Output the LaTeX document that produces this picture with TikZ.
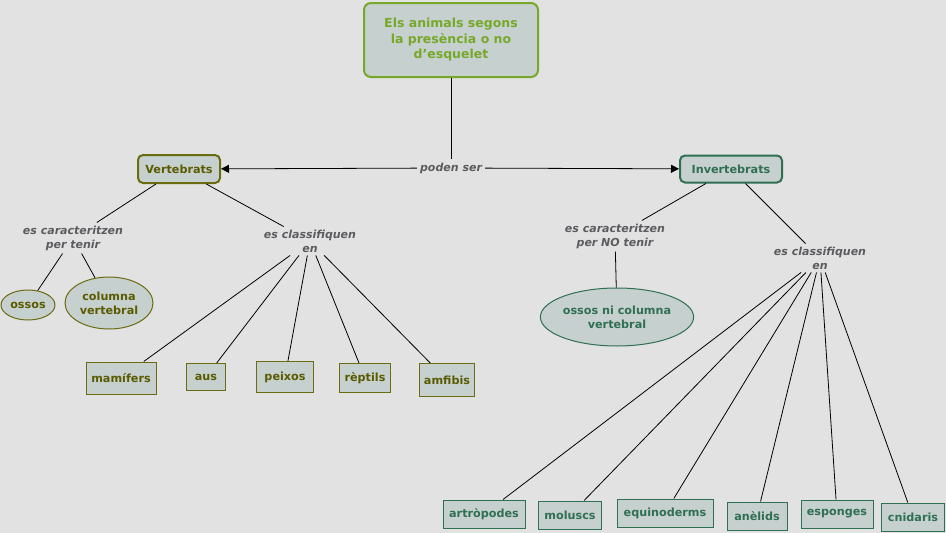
\documentclass[tikz,border=0pt]{standalone}
\usepackage{fontspec}
\setmainfont{DejaVu Sans}
\usetikzlibrary{shapes.geometric,arrows.meta}
\definecolor{bg}{HTML}{E2E2E2}
\definecolor{fillc}{HTML}{C6D0CE}
\definecolor{olv}{HTML}{6B6B12}
\definecolor{olvt}{HTML}{5A5A00}
\definecolor{grn}{HTML}{2F6F52}
\definecolor{ttl}{HTML}{78A82A}
\definecolor{lnk}{HTML}{5C5C60}
\begin{document}
\begin{tikzpicture}[x=1pt,y=-1pt,
  every node/.style={font=\fontsize{11.2}{14}\selectfont\bfseries, align=center, inner sep=2pt},
  lbox/.style={draw=olv, fill=fillc, text=olvt, line width=1pt, minimum height=28pt},
  rbox/.style={draw=grn, fill=fillc, text=grn, line width=1pt, minimum height=28pt},
  lell/.style={ellipse, draw=olv, fill=fillc, text=olvt, line width=1pt, inner sep=0pt},
  rell/.style={ellipse, draw=grn, fill=fillc, text=grn, line width=1pt, inner sep=0pt},
  link/.style={text=lnk, font=\fontsize{11}{14}\selectfont\bfseries\itshape, fill=bg, inner sep=3pt},
  ln/.style={draw=black, line width=0.8pt}]
\fill[bg] (0,0) rectangle (946,533);
\node[draw=ttl, fill=fillc, text=ttl, line width=2pt, rounded corners=7pt, minimum width=174pt, minimum height=74pt, font=\fontsize{12.5}{15.5}\selectfont\bfseries] (t) at (451,40) {Els animals segons\\la presència o no\\d'esquelet};
\node[draw=olv, fill=fillc, text=olvt, line width=2pt, rounded corners=5pt, minimum width=82pt, minimum height=28pt] (v) at (179,169) {Vertebrats};
\node[draw=grn, fill=fillc, text=grn, line width=2pt, rounded corners=5pt, minimum width=102pt, minimum height=27pt] (i) at (731,169) {Invertebrats};
\node[link] (ps) at (451,168) {poden ser};
\node[link] (c1) at (73,238) {es caracteritzen\\per tenir};
\node[link] (k1) at (310,241) {es classifiquen\\en};
\node[link] (c2) at (615,236) {es caracteritzen\\per NO tenir};
\node[link] (k2) at (820,258) {es classifiquen\\en};
\node[lell, minimum width=54pt, minimum height=30pt] (os) at (28,305) {ossos};
\node[lell, minimum width=88pt, minimum height=52pt] (cv) at (109,303) {columna\\vertebral};
\node[rell, minimum width=142pt, minimum height=58pt] (on) at (617,317) {ossos ni columna\\vertebral};
\node[lbox, minimum width=70pt, minimum height=32pt] (m1) at (121,378) {mamífers};
\node[lbox, minimum width=39pt, minimum height=27pt] (m2) at (206,377) {aus};
\node[lbox, minimum width=57pt, minimum height=31pt] (m3) at (285,377) {peixos};
\node[lbox, minimum width=51pt, minimum height=29pt] (m4) at (365,378) {rèptils};
\node[lbox, minimum width=55pt, minimum height=33pt] (m5) at (447,380) {amfibis};
\node[rbox, minimum width=82pt] (n1) at (484,514) {artròpodes};
\node[rbox, minimum width=63pt] (n2) at (570,515) {moluscs};
\node[rbox, minimum width=96pt] (n3) at (665,513) {equinoderms};
\node[rbox, minimum width=60pt] (n4) at (757,516) {anèlids};
\node[rbox, minimum width=72pt] (n5) at (837,514) {esponges};
\node[rbox, minimum width=63pt] (n6) at (913,517) {cnidaris};
\draw[ln] (t) -- (ps);
\draw[ln,-{Triangle[length=8pt,width=8pt]}] (ps) -- (v);
\draw[ln,-{Triangle[length=8pt,width=8pt]}] (ps) -- (i);
\draw[ln] (v) -- (c1); \draw[ln] (v) -- (k1);
\draw[ln] (c1) -- (os); \draw[ln] (c1) -- (cv);
\foreach \n in {m1,m2,m3,m4,m5} \draw[ln] (k1) -- (\n);
\draw[ln] (i) -- (c2); \draw[ln] (i) -- (k2);
\draw[ln] (c2) -- (on);
\foreach \n in {n1,n2,n3,n4,n5,n6} \draw[ln] (k2) -- (\n);
\end{tikzpicture}
\end{document}
